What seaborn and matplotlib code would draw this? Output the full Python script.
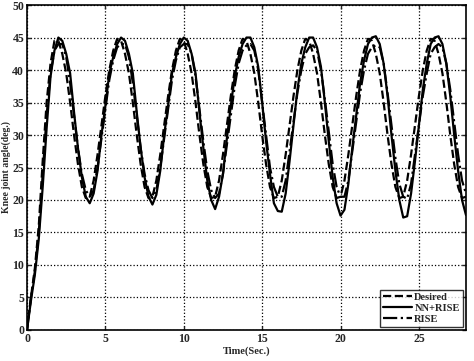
import numpy as np
import pandas as pd
import matplotlib
matplotlib.use("Agg")
import matplotlib.pyplot as plt
import seaborn as sns

# ==========================================
# Data read off the reference (sampled every 0.25 s)
# ==========================================
time_s = np.arange(0, 28.001, 0.25)

desired = [
    0, 5, 9.5, 16, 26, 35, 41, 44.5,
    44.5, 42.5, 39.5, 35, 30, 25.5, 22, 20.3, 20.5, 23, 27, 31.5, 36, 40, 43, 44.8,
    44.5, 42.5, 39.5, 35, 30, 25.5, 22, 20.3, 20.5, 23, 27, 31.5, 36, 40, 43, 44.8,
    44.5, 42.5, 39.5, 35, 30, 25.5, 22, 20.3, 20.5, 23, 27, 31.5, 36, 40, 43, 44.8,
    44.5, 42.5, 39.5, 35, 30, 25.5, 22, 20.3, 20.5, 23, 27, 31.5, 36, 40, 43, 44.8,
    44.5, 42.5, 39.5, 35, 30, 25.5, 22, 20.3, 20.5, 23, 27, 31.5, 36, 40, 43, 44.8,
    44.5, 42.5, 39.5, 35, 30, 25.5, 22, 20.3, 20.5, 23, 27, 31.5, 36, 40, 43, 44.8,
    44.5, 42.5, 39.5, 35, 30, 25.5, 22, 20.3, 20.5,
]

nn_rise = [
    0, 4.5, 8.5, 14, 22, 31, 39, 43,
    45, 44.5, 42.5, 39.5, 33.5, 28, 23.5, 20.5, 19.5, 21, 24.5, 30, 34.5, 39.5, 42, 44,
    45, 44.5, 42.5, 39.5, 33.5, 28, 23.5, 20.5, 19.3, 20.8, 24.5, 30, 34.5, 39.5, 42, 44,
    45, 44.5, 42.5, 39.5, 33.5, 28, 23, 20, 18.6, 20.5, 24, 29.5, 34.5, 39, 42, 44,
    45, 45, 43.5, 40.5, 35, 29, 24, 19.5, 18.3, 18.2, 21, 26, 31.5, 37, 41, 43.5,
    45, 45, 43.5, 40.5, 35, 29, 23.5, 19.5, 17.6, 18.5, 22.5, 28, 33, 38, 41.5, 44,
    45, 45.2, 44, 41, 36, 30, 24.5, 20, 17.3, 17.5, 21, 26, 31.5, 37, 41, 44,
    45, 45.2, 44, 41, 36, 30, 24.5, 20, 17.7,
]

rise = [
    0, 5, 9, 15, 24, 33, 39.5, 43,
    44, 44, 42, 38, 33, 28, 24, 21.5, 20.5, 21.5, 25, 29.5, 34, 38.5, 41.5, 43.5,
    44, 44, 42, 38, 33, 28, 24, 21.5, 20.3, 21.5, 25, 29.5, 34, 38.5, 41.5, 43.5,
    44, 44, 42.5, 39, 34, 29, 24.5, 21.5, 20.3, 21, 24, 28.5, 33, 37.5, 41, 43,
    43.8, 44, 43, 40, 35, 30, 25, 22, 20.5, 20.5, 23, 27.5, 32, 36.5, 40, 42.5,
    43.5, 43.8, 43, 40, 35.5, 30.5, 25.5, 22, 20.5, 20.5, 23, 27.5, 32, 36.5, 40, 42.5,
    43.5, 43.8, 43.5, 41, 36.5, 31.5, 26.5, 22.5, 20.5, 20.2, 22.5, 27, 31.5, 36, 39.5, 42.5,
    43.5, 44, 43.5, 41, 37, 32, 27, 23, 21,
]

series_labels = ["Desired", "NN+RISE", "RISE"]
x_ticks = [0, 5, 10, 15, 20, 25]
y_ticks = [0, 5, 10, 15, 20, 25, 30, 35, 40, 45, 50]

# ==========================================
# Styling
# ==========================================
sns.set_style("ticks")
plt.rcParams['font.family'] = ['Liberation Serif', 'DejaVu Serif']
plt.rcParams['font.weight'] = 'bold'
plt.rcParams['xtick.direction'] = 'in'
plt.rcParams['ytick.direction'] = 'in'

fig = plt.figure(figsize=(4.74, 3.61), dpi=100)
ax = fig.add_axes([0.057, 0.086, 0.926, 0.9])

styles = ["--", "-", "-."]
for vals, lab, ls in zip([desired, nn_rise, rise], series_labels, styles):
    sns.lineplot(x=time_s, y=vals, ax=ax, color="black", linestyle=ls,
                 linewidth=1.6, label=lab)

ax.set_xlim(0, 28)
ax.set_ylim(0, 50)
ax.set_xticks(x_ticks)
ax.set_yticks(y_ticks)
ax.tick_params(labelsize=8.5, length=3, width=1, top=True, right=True, pad=2)
for lbl in ax.get_xticklabels() + ax.get_yticklabels():
    lbl.set_fontweight('bold')
ax.grid(True, color="black", linestyle=":", linewidth=0.9)
for sp in ax.spines.values():
    sp.set_linewidth(1.2)
    sp.set_color("black")

ax.set_xlabel("Time(Sec.)", fontsize=7.5, fontweight='bold', labelpad=1)
ax.set_ylabel("Knee joint angle(deg.)", fontsize=7, fontweight='bold', labelpad=1)

leg = ax.legend(loc="lower right", fontsize=7.5, frameon=True, fancybox=False,
                edgecolor="black", handlelength=2.8, handletextpad=0.2,
                borderpad=0.3, labelspacing=0.15, borderaxespad=0.3)
leg.get_frame().set_linewidth(1.0)
for txt in leg.get_texts():
    txt.set_fontweight('bold')

plt.savefig("out.png", dpi=100)
